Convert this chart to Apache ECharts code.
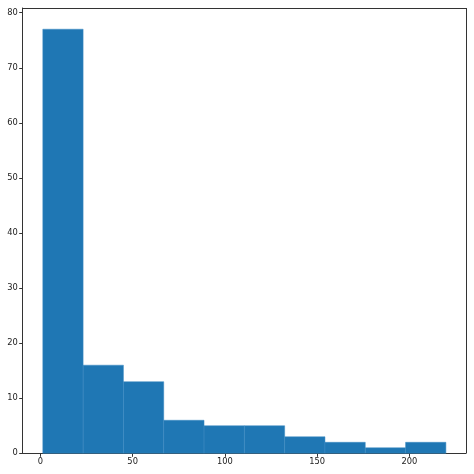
<!DOCTYPE html>
<html>
<head>
<meta charset="utf-8">
<script src="https://cdn.jsdelivr.net/npm/echarts@6/dist/echarts.min.js"></script>
<style>
  html, body { margin: 0; padding: 0; background: #fff; }
  #chart { width: 474px; height: 474px; }
</style>
</head>
<body>
<div id="chart"></div>
<script>
// histogram bins
var binEdges = [1.3, 23.15, 45.0, 66.85, 88.7, 110.55, 132.4, 154.25, 176.1, 197.95, 219.8]
var counts = [77, 16, 13, 6, 5, 5, 3, 2, 1, 2]
var xTicks = [0, 50, 100, 150, 200]
var yTicks = [0, 10, 20, 30, 40, 50, 60, 70, 80]

var data = []
for (var i = 0; i < counts.length; i++) {
  data.push([binEdges[i], binEdges[i + 1], counts[i]])
}

var dom = document.getElementById('chart')
var myChart = echarts.init(dom)
var axisCol = '#333'
var option = {
  animation: false,
  grid: { left: 22.7, top: 8, right: 8, bottom: 20.7 },
  xAxis: {
    type: 'value',
    min: -9.6,
    max: 230.7,
    splitLine: { show: false },
    axisLine: { onZero: false, lineStyle: { color: axisCol, width: 1 } },
    axisTick: { show: true, length: 3.5, customValues: xTicks, lineStyle: { color: axisCol } },
    axisLabel: { customValues: xTicks, color: '#222', fontSize: 8.3, fontFamily: 'DejaVu Sans', margin: 5 }
  },
  yAxis: {
    type: 'value',
    min: 0,
    max: 80.85,
    splitLine: { show: false },
    axisLine: { show: true, onZero: false, lineStyle: { color: axisCol, width: 1 } },
    axisTick: { show: true, length: 3.5, customValues: yTicks, lineStyle: { color: axisCol } },
    axisLabel: { customValues: yTicks, color: '#222', fontSize: 8.3, fontFamily: 'DejaVu Sans', margin: 5 }
  },
  series: [
    {
      type: 'custom',
      data: data,
      encode: { x: [0, 1], y: 2 },
      renderItem: function (params, api) {
        var p0 = api.coord([api.value(0), 0])
        var p1 = api.coord([api.value(1), api.value(2)])
        return {
          type: 'rect',
          shape: { x: p0[0], y: p1[1], width: p1[0] - p0[0], height: p0[1] - p1[1] },
          style: { fill: '#1f77b4', stroke: '#3d8ac2', lineWidth: 0.5 }
        }
      }
    },
    {
      // frame on top and right
      type: 'line',
      data: [],
      markLine: {
        silent: true,
        symbol: 'none',
        label: { show: false },
        lineStyle: { color: axisCol, width: 1, type: 'solid' },
        data: [
          [{ coord: [-9.6, 80.85] }, { coord: [230.7, 80.85] }],
          [{ coord: [230.7, 0] }, { coord: [230.7, 80.85] }]
        ]
      }
    }
  ]
}
myChart.setOption(option)
</script>
</body>
</html>
